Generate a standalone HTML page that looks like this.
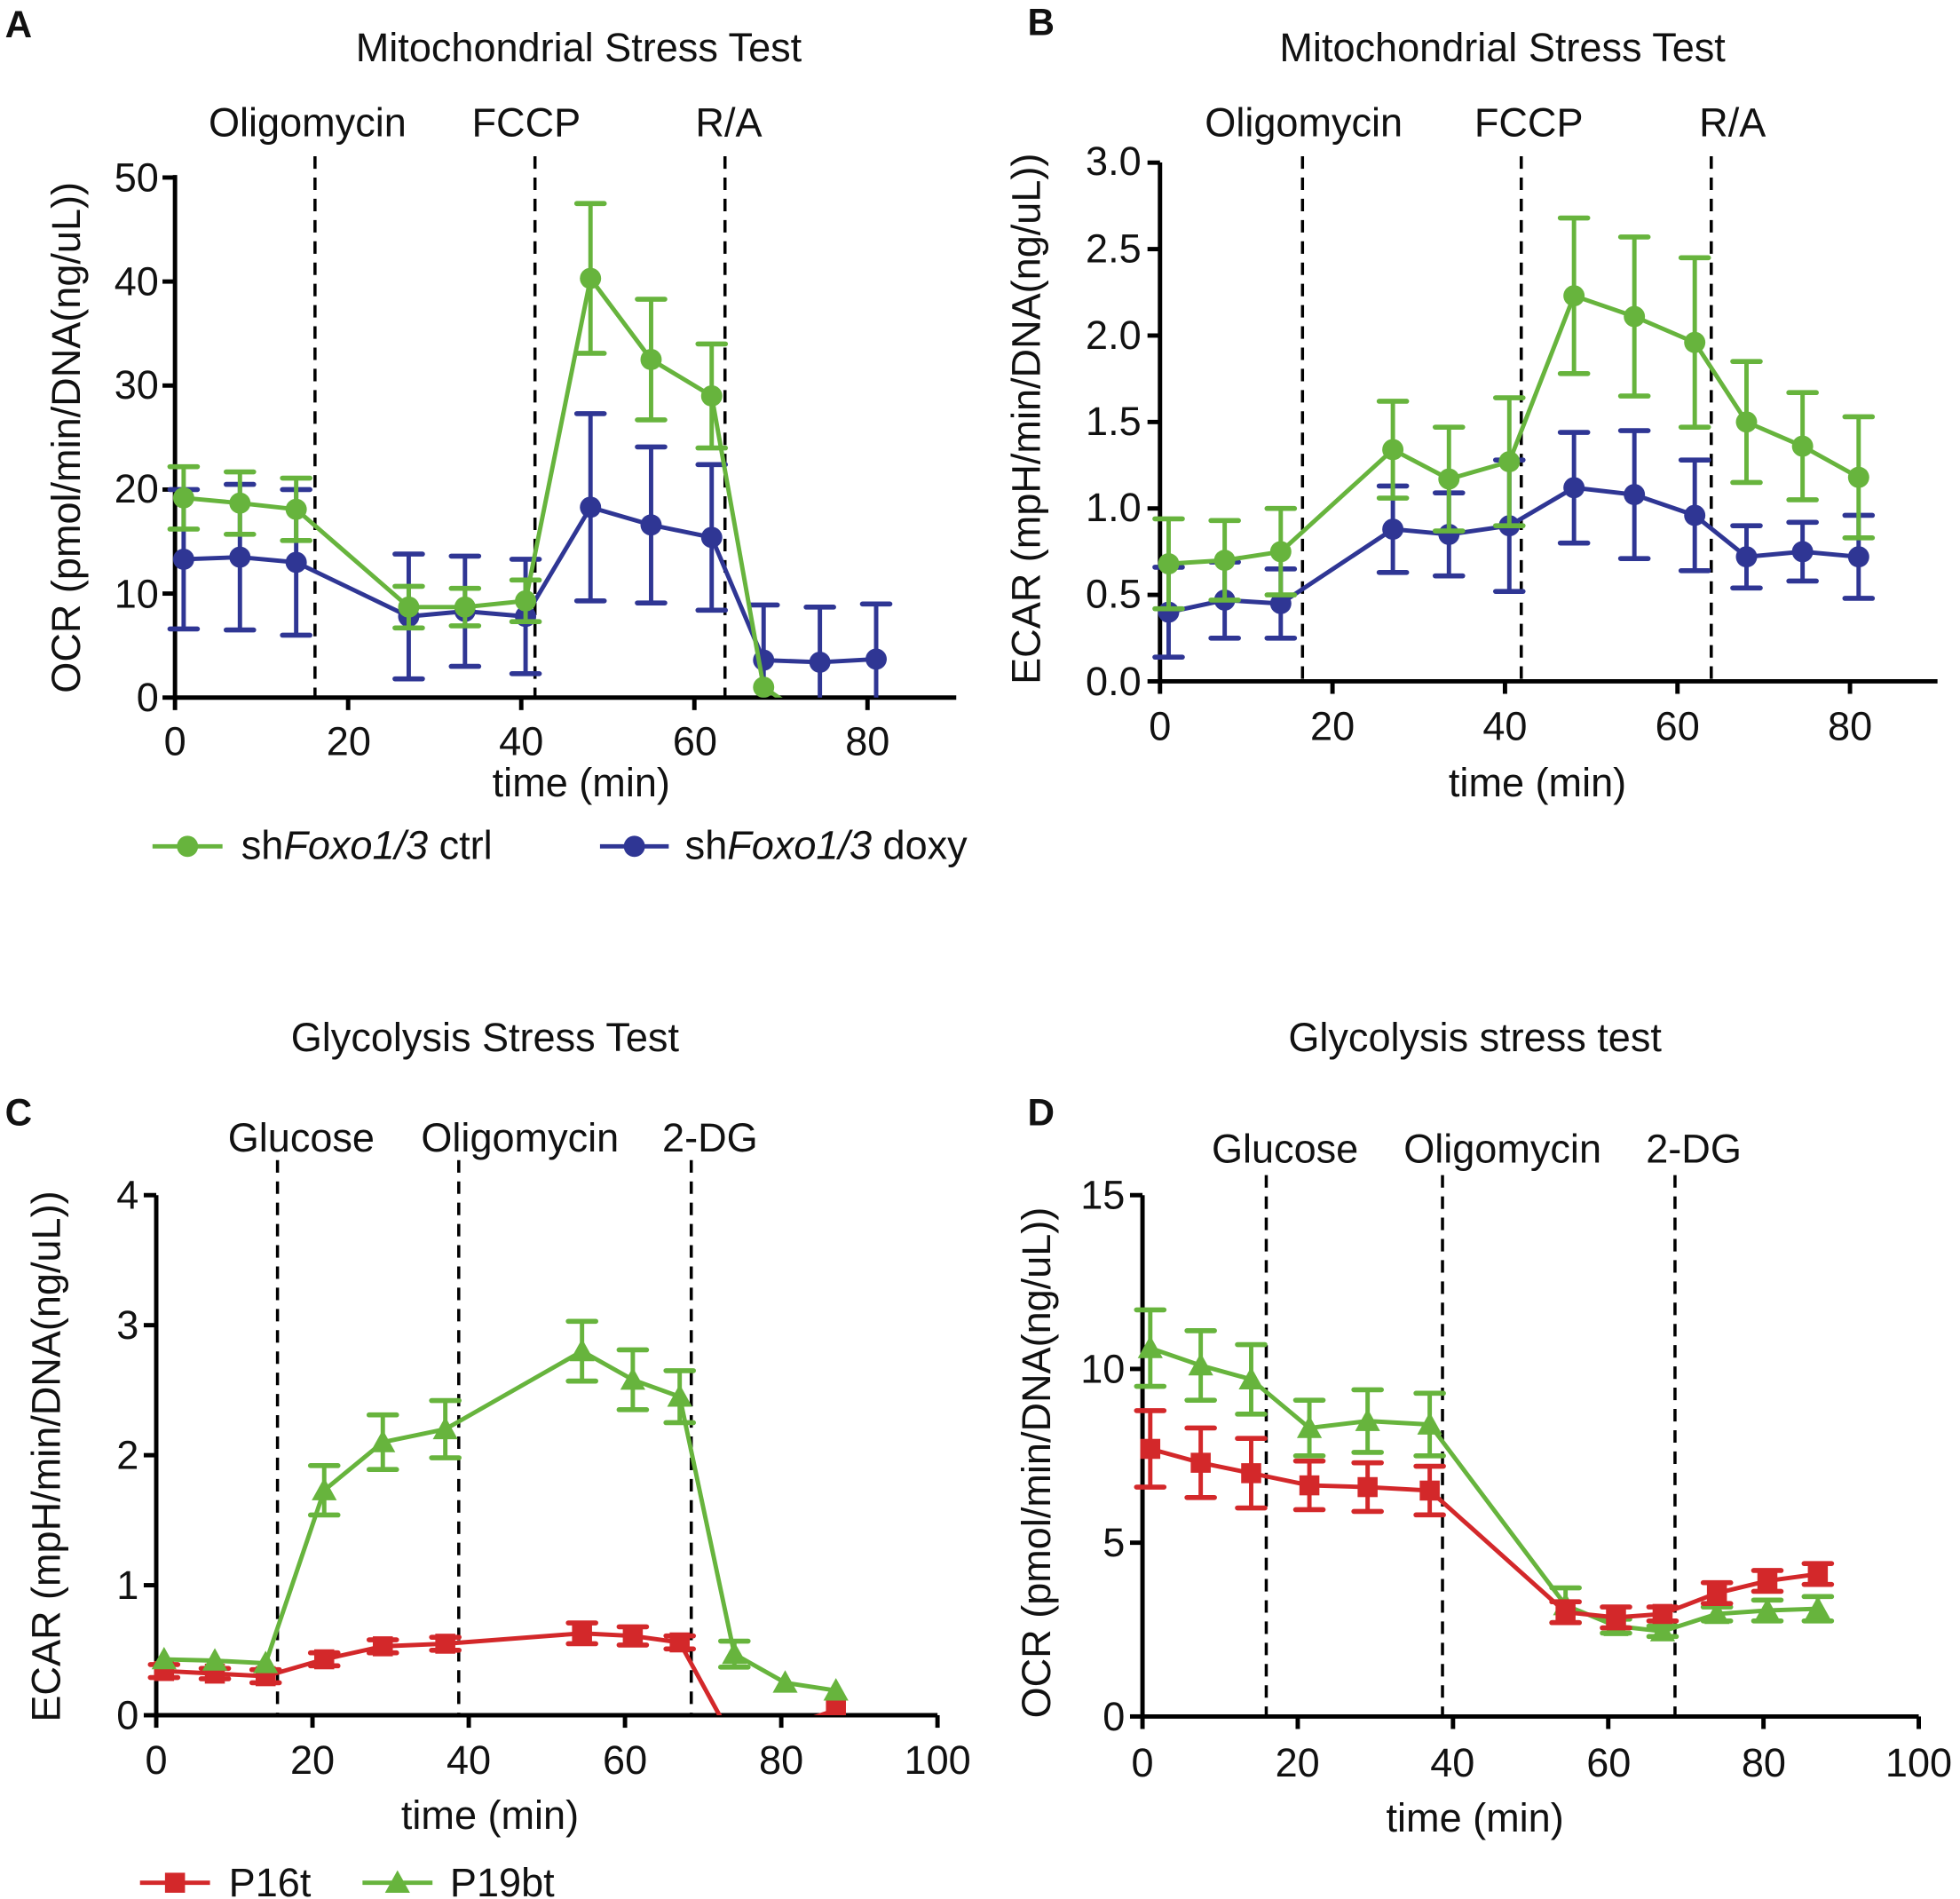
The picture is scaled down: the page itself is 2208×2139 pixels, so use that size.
<!DOCTYPE html>
<html><head><meta charset="utf-8"><style>
html,body{margin:0;padding:0;background:#fff}
svg{display:block}
text{font-family:"Liberation Sans",sans-serif;fill:#111}
</style></head><body>
<svg id="s" width="2208" height="2139" viewBox="0 0 1568 1519" xmlns="http://www.w3.org/2000/svg">
<g font-size="32">
<text x="4" y="30" font-weight="bold" font-size="30">A</text>
<text x="822" y="28" font-weight="bold" font-size="30">B</text>
<text x="4" y="900" font-weight="bold" font-size="30">C</text>
<text x="822" y="900" font-weight="bold" font-size="30">D</text>
<text x="463" y="49" text-anchor="middle">Mitochondrial Stress Test</text>
<text x="1202" y="49" text-anchor="middle">Mitochondrial Stress Test</text>
<text x="388" y="841" text-anchor="middle">Glycolysis Stress Test</text>
<text x="1180" y="841" text-anchor="middle">Glycolysis stress test</text>
<text x="246" y="109" text-anchor="middle">Oligomycin</text>
<text x="421" y="109" text-anchor="middle">FCCP</text>
<text x="583" y="109" text-anchor="middle">R/A</text>
<text x="1043" y="109" text-anchor="middle">Oligomycin</text>
<text x="1223" y="109" text-anchor="middle">FCCP</text>
<text x="1386" y="109" text-anchor="middle">R/A</text>
<text x="241" y="921" text-anchor="middle">Glucose</text>
<text x="416" y="921" text-anchor="middle">Oligomycin</text>
<text x="568" y="921" text-anchor="middle">2-DG</text>
<text x="1028" y="930" text-anchor="middle">Glucose</text>
<text x="1202" y="930" text-anchor="middle">Oligomycin</text>
<text x="1355" y="930" text-anchor="middle">2-DG</text>
<text x="465" y="637" text-anchor="middle">time (min)</text>
<text x="1230" y="637" text-anchor="middle">time (min)</text>
<text x="392" y="1463" text-anchor="middle">time (min)</text>
<text x="1180" y="1465" text-anchor="middle">time (min)</text>
<text transform="translate(64,350) rotate(-90)" text-anchor="middle">OCR (pmol/min/DNA(ng/uL))</text>
<text transform="translate(832,335) rotate(-90)" text-anchor="middle">ECAR (mpH/min/DNA(ng/uL))</text>
<text transform="translate(48,1165) rotate(-90)" text-anchor="middle">ECAR (mpH/min/DNA(ng/uL))</text>
<text transform="translate(840,1170) rotate(-90)" text-anchor="middle">OCR (pmol/min/DNA(ng/uL))</text>
<g text-anchor="end"><text x="127" y="153">50</text><text x="127" y="236">40</text><text x="127" y="319">30</text><text x="127" y="402">20</text><text x="127" y="486">10</text><text x="127" y="569">0</text></g>
<g text-anchor="middle"><text x="140" y="604">0</text><text x="279" y="604">20</text><text x="417" y="604">40</text><text x="556" y="604">60</text><text x="694" y="604">80</text></g>
<g text-anchor="end"><text x="913" y="140">3.0</text><text x="913" y="210">2.5</text><text x="913" y="279">2.0</text><text x="913" y="348">1.5</text><text x="913" y="417">1.0</text><text x="913" y="486">0.5</text><text x="913" y="556">0.0</text></g>
<g text-anchor="middle"><text x="928" y="592">0</text><text x="1066" y="592">20</text><text x="1204" y="592">40</text><text x="1342" y="592">60</text><text x="1480" y="592">80</text></g>
<g text-anchor="end"><text x="111" y="967">4</text><text x="111" y="1071">3</text><text x="111" y="1175">2</text><text x="111" y="1279">1</text><text x="111" y="1383">0</text></g>
<g text-anchor="middle"><text x="125" y="1419">0</text><text x="250" y="1419">20</text><text x="375" y="1419">40</text><text x="500" y="1419">60</text><text x="625" y="1419">80</text><text x="750" y="1419">100</text></g>
<g text-anchor="end"><text x="900" y="967">15</text><text x="900" y="1106">10</text><text x="900" y="1245">5</text><text x="900" y="1384">0</text></g>
<g text-anchor="middle"><text x="914" y="1421">0</text><text x="1038" y="1421">20</text><text x="1162" y="1421">40</text><text x="1287" y="1421">60</text><text x="1411" y="1421">80</text><text x="1535" y="1421">100</text></g>
<text x="193" y="687">sh<tspan font-style="italic">Foxo1/3</tspan> ctrl</text>
<text x="548" y="687">sh<tspan font-style="italic">Foxo1/3</tspan> doxy</text>
<text x="183" y="1517">P16t</text>
<text x="360" y="1517">P19bt</text>
</g>
<g id="plot"></g>
</svg>
<script>
const NS="http://www.w3.org/2000/svg",P=document.getElementById('plot');
function el(t,a){const e=document.createElementNS(NS,t);for(const k in a)e.setAttribute(k,a[k]);P.appendChild(e);return e;}
const G="#67b43d",B="#2f3694",R="#d3282a";
function axes(x0,y0,x1,yTop,xt,yt){
 el('line',{x1:x0,y1:y0,x2:x1,y2:y0,stroke:'#000','stroke-width':3.5});
 el('line',{x1:x0,y1:y0+1.5,x2:x0,y2:yTop,stroke:'#000','stroke-width':3.5});
 xt.forEach(x=>el('line',{x1:x,y1:y0,x2:x,y2:y0+10,stroke:'#000','stroke-width':3.5}));
 yt.forEach(y=>el('line',{x1:x0,y1:y,x2:x0-10,y2:y,stroke:'#000','stroke-width':3.5}));
}
function dash(x,y1,y2){el('line',{x1:x,y1:y1,x2:x,y2:y2,stroke:'#000','stroke-width':2.5,'stroke-dasharray':'10,7'});}
function series(d,mx,my,col,mk,clip){
 const pts=d.map(p=>[mx(p[0]),my(p[1]),p[2]||0]);
 el('polyline',{points:pts.map(p=>p[0]+','+p[1]).join(' '),fill:'none',stroke:col,'stroke-width':3.5,'clip-path':clip});
 d.forEach((p,i)=>{const x=pts[i][0],y=pts[i][1];if(p[2]){const a=my(p[1]+p[2]),b=my(p[1]-p[2]);
  el('line',{x1:x,y1:a,x2:x,y2:b,stroke:col,'stroke-width':3.5,'clip-path':clip});
  [a,b].forEach(v=>el('line',{x1:x-11,y1:v,x2:x+11,y2:v,stroke:col,'stroke-width':4,'stroke-linecap':'round','clip-path':clip}));}
  if(p[3])return;marker(x,y,col,mk,clip);});
}
function marker(x,y,col,mk,clip){
 if(mk=='c')el('circle',{cx:x,cy:y,r:8.5,fill:col,'clip-path':clip});
 else if(mk=='s')el('rect',{x:x-8,y:y-8,width:16,height:16,fill:col,'clip-path':clip});
 else el('polygon',{points:`${x},${y-10} ${x-10},${y+8} ${x+10},${y+8}`,fill:col,'clip-path':clip});
}
function clipR(id,x,y,w,h){const c=document.createElementNS(NS,'clipPath');c.id=id;const r=document.createElementNS(NS,'rect');
 r.setAttribute('x',x);r.setAttribute('y',y);r.setAttribute('width',w);r.setAttribute('height',h);c.appendChild(r);P.appendChild(c);}
clipR('ca',120,100,700,458);
let mx=t=>140+t*6.925,my=v=>558-v*8.32;
axes(140,558,765,140,[0,20,40,60,80].map(mx),[0,10,20,30,40,50].map(my));
[252,428,580].forEach(x=>dash(x,125,558));
series([[1,13.3,6.7],[7.5,13.5,7],[14,13,7],[27,7.8,6],[33.5,8.3,5.3],[40.5,7.8,5.5],[48,18.3,9],[55,16.6,7.5],[62,15.4,7],[68,3.6,5.3],[74.5,3.4,5.3],[81,3.7,5.3]],mx,my,B,'c','url(#ca)');
series([[1,19.2,3],[7.5,18.7,3],[14,18.1,3],[27,8.7,2],[33.5,8.7,1.8],[40.5,9.3,2],[48,40.3,7.2],[55,32.5,5.8],[62,29,5],[68,1,0],[71.5,-1,0,1]],mx,my,G,'c','url(#ca)');
clipR('cb',900,100,700,445);
mx=t=>928+t*6.9;my=v=>545-v*138.3;
axes(928,545,1550,130,[0,20,40,60,80].map(mx),[0,.5,1,1.5,2,2.5,3].map(my));
[1042,1217,1369].forEach(x=>dash(x,125,545));
series([[1,0.4,.26],[7.5,.47,.22],[14,.45,.2],[27,.88,.25],[33.5,.85,.24],[40.5,.9,.38],[48,1.12,.32],[55,1.08,.37],[62,.96,.32],[68,.72,.18],[74.5,.75,.17],[81,.72,.24]],mx,my,B,'c','url(#cb)');
series([[1,.68,.26],[7.5,.7,.23],[14,.75,.25],[27,1.34,.28],[33.5,1.17,.3],[40.5,1.27,.37],[48,2.23,.45],[55,2.11,.46],[62,1.96,.49],[68,1.5,.35],[74.5,1.36,.31],[81,1.18,.35]],mx,my,G,'c','url(#cb)');
clipR('cc',100,900,700,472);
mx=t=>125+t*6.25;my=v=>1372-v*104;
axes(125,1372,750,956,[0,20,40,60,80,100].map(mx),[0,1,2,3,4].map(my));
[222,367,553].forEach(x=>dash(x,928,1372));
series([[1,.34,.05],[7.5,.32,.04],[14,.3,.05],[21.5,.43,.05],[29,.53,.05],[37,.55,.05],[54.5,.63,.08],[61,.61,.07],[67,.56,.05],[73,-.1,0,1]],mx,my,R,'s','url(#cc)');
series([[80,-.1,0,1],[87,.04,0]],mx,my,R,'s','url(#cc)');
series([[1,.43,0],[7.5,.42,0],[14,.4,0],[21.5,1.73,.19],[29,2.1,.21],[37,2.2,.22],[54.5,2.8,.23],[61,2.58,.23],[67,2.45,.2],[74,.47,.1],[80.5,.25,0],[87,.19,0]],mx,my,G,'t','url(#cc)');
clipR('cd',890,900,700,473);
mx=t=>914+t*6.21;my=v=>1373-v*27.8;
axes(914,1373,1535,956,[0,20,40,60,80,100].map(mx),[0,5,10,15].map(my));
[1013,1154,1340].forEach(x=>dash(x,940,1373));
series([[1,10.6,1.1],[7.5,10.1,1],[14,9.7,1],[21.5,8.3,.8],[29,8.5,.9],[37,8.4,.9],[54.5,3.2,.5],[61,2.6,.2],[67,2.45,.15],[74,2.95,.2],[80.5,3.05,.3],[87,3.1,.35]],mx,my,G,'t','url(#cd)');
series([[1,7.7,1.1],[7.5,7.3,1],[14,7,1],[21.5,6.65,.7],[29,6.6,.7],[37,6.5,.7],[54.5,3,.3],[61,2.85,.3],[67,2.95,.2],[74,3.55,.3],[80.5,3.9,.3],[87,4.1,.3]],mx,my,R,'s','url(#cd)');
[[122,178,677,G,'c'],[480,535,677,B,'c'],[112,168,1506,R,'s'],[290,346,1506,G,'t']].forEach(l=>{
 el('line',{x1:l[0],y1:l[2],x2:l[1],y2:l[2],stroke:l[3],'stroke-width':3.5});marker((l[0]+l[1])/2,l[2],l[3],l[4]);});
</script>
</body></html>
